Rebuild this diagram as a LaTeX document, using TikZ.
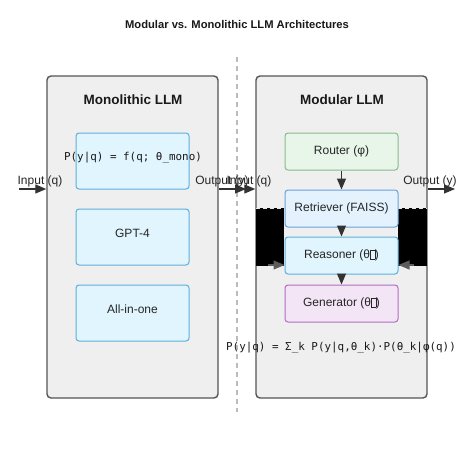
\documentclass[tikz,border=0pt]{standalone}
\usepackage{fontspec}
\setmainfont{Liberation Sans}
\newfontfamily\monof{DejaVu Sans Mono}
\usetikzlibrary{arrows.meta}
\definecolor{bigfill}{HTML}{EFEFEF}
\definecolor{bigdraw}{HTML}{555555}
\definecolor{cyanfill}{HTML}{E1F5FE}
\definecolor{cyandraw}{HTML}{5AB0DC}
\definecolor{bluefill}{HTML}{E3F2FD}
\definecolor{bluedraw}{HTML}{6AA2DC}
\definecolor{greenfill}{HTML}{E8F5E9}
\definecolor{greendraw}{HTML}{88BC8A}
\definecolor{purpfill}{HTML}{F3E5F5}
\definecolor{purpdraw}{HTML}{B46CC4}
\definecolor{arrcol}{HTML}{333333}
\definecolor{divcol}{HTML}{BBBBBB}
\newcommand{\tofu}{{\setlength\fboxsep{0pt}\setlength\fboxrule{0.4pt}\fbox{\rule{0pt}{8.5pt}\hspace{4pt}}}}
\tikzset{
  bigbox/.style={draw=bigdraw, fill=bigfill, line width=1.4pt, rounded corners=4pt, minimum width=171pt, minimum height=322pt, inner sep=0pt},
  hdr/.style={font=\fontsize{13.5}{15}\selectfont\bfseries, text=black!90},
  mbox/.style={fill=cyanfill, draw=cyandraw, line width=1pt, rounded corners=3pt, minimum width=113pt, minimum height=56pt, inner sep=0pt, font=\fontsize{12}{14}\selectfont, text depth=8pt, text height=8pt, text=black!85},
  sbox/.style={line width=1pt, rounded corners=3pt, minimum width=113pt, minimum height=37pt, inner sep=0pt, font=\fontsize{12}{14}\selectfont, text=black!85},
  lbl/.style={font=\fontsize{12}{14}\selectfont, inner sep=0pt, text=black!85},
  mono/.style={font=\monof\fontsize{10.9}{12}\selectfont, inner sep=0pt, text=black!90},
  arr/.style={draw=arrcol, line width=1.2pt, -{Triangle[length=11pt,width=9pt]}},
}
\begin{document}
\begin{tikzpicture}[x=1pt,y=-1pt]
\useasboundingbox (0,0) rectangle (474,474);
\fill[white] (0,0) rectangle (474,474);

\node[font=\fontsize{11.2}{13}\selectfont\bfseries, text=black!90] (title) at (237,24) {Modular vs. Monolithic LLM Architectures};

\draw[divcol, line width=1.4pt, dash pattern=on 5pt off 4pt] (237,57) -- (237,412);

% Monolithic
\node[bigbox] (monoLLM) at (132.5,237) {};
\node[hdr] (monohdr) at (133,100) {Monolithic LLM};
\node[mbox] (fbox) at (132.5,161) {};
\node[mono] (fform) at (133,158) {P(y|q) = f(q; θ\_mono)};
\node[mbox] (gpt) at (132.5,237) {GPT-4};
\node[mbox] (allone) at (132.5,313) {All-in-one};

% Modular
\node[bigbox] (modLLM) at (341.5,237) {};
\node[hdr] (modhdr) at (342,100) {Modular LLM};

% feedback fills
\fill[black] (256,208) rectangle (284,266);
\fill[black] (398,208) rectangle (427,266);
\draw[white!80!gray, line width=0.8pt, dash pattern=on 4pt off 3pt] (256,208) -- (284,208);
\draw[white!80!gray, line width=0.8pt, dash pattern=on 4pt off 3pt] (398,208) -- (427,208);

\node[sbox, fill=greenfill, draw=greendraw] (router) at (341.5,151.5) {Router (φ)};
\node[sbox, fill=bluefill, draw=bluedraw] (retr) at (341.5,208.5) {Retriever (FAISS)};
\node[sbox, fill=cyanfill, draw=cyandraw] (reas) at (341.5,255.5) {Reasoner (θ\tofu)};
\node[sbox, fill=purpfill, draw=purpdraw] (gen) at (341.5,303.5) {Generator (θ\tofu)};

\draw[arr] (router) -- (retr);
\draw[arr] (retr) -- (reas);
\draw[arr] (reas) -- (gen);

\coordinate (fbL) at (268,265);
\coordinate (fbR) at (414,265);
\draw[arr, draw=arrcol!80] (fbL) -- (reas.west |- fbL);
\draw[arr, draw=arrcol!80] (fbR) -- (reas.east |- fbR);

\node[mono] (mform) at (341,348) {P(y|q) = Σ\_k P(y|q,θ\_k)·P(θ\_k|φ(q))};

% inputs / outputs
\coordinate (inA) at (19,189);
\coordinate (outA) at (246,189);
\coordinate (inB) at (228,189);
\coordinate (outB) at (455,189);
\draw[arr] (inA) -- (monoLLM.west |- inA);
\draw[arr] (monoLLM.east |- outA) -- (outA);
\draw[arr] (inB) -- (modLLM.west |- inB);
\draw[arr] (modLLM.east |- outB) -- (outB);
\node[lbl] (inAl) at (40,181) {Input (q)};
\node[lbl] (outAl) at (222,181) {Output (y)};
\node[lbl] (inBl) at (249,181) {Input (q)};
\node[lbl] (outBl) at (430,181) {Output (y)};
\end{tikzpicture}
\end{document}
